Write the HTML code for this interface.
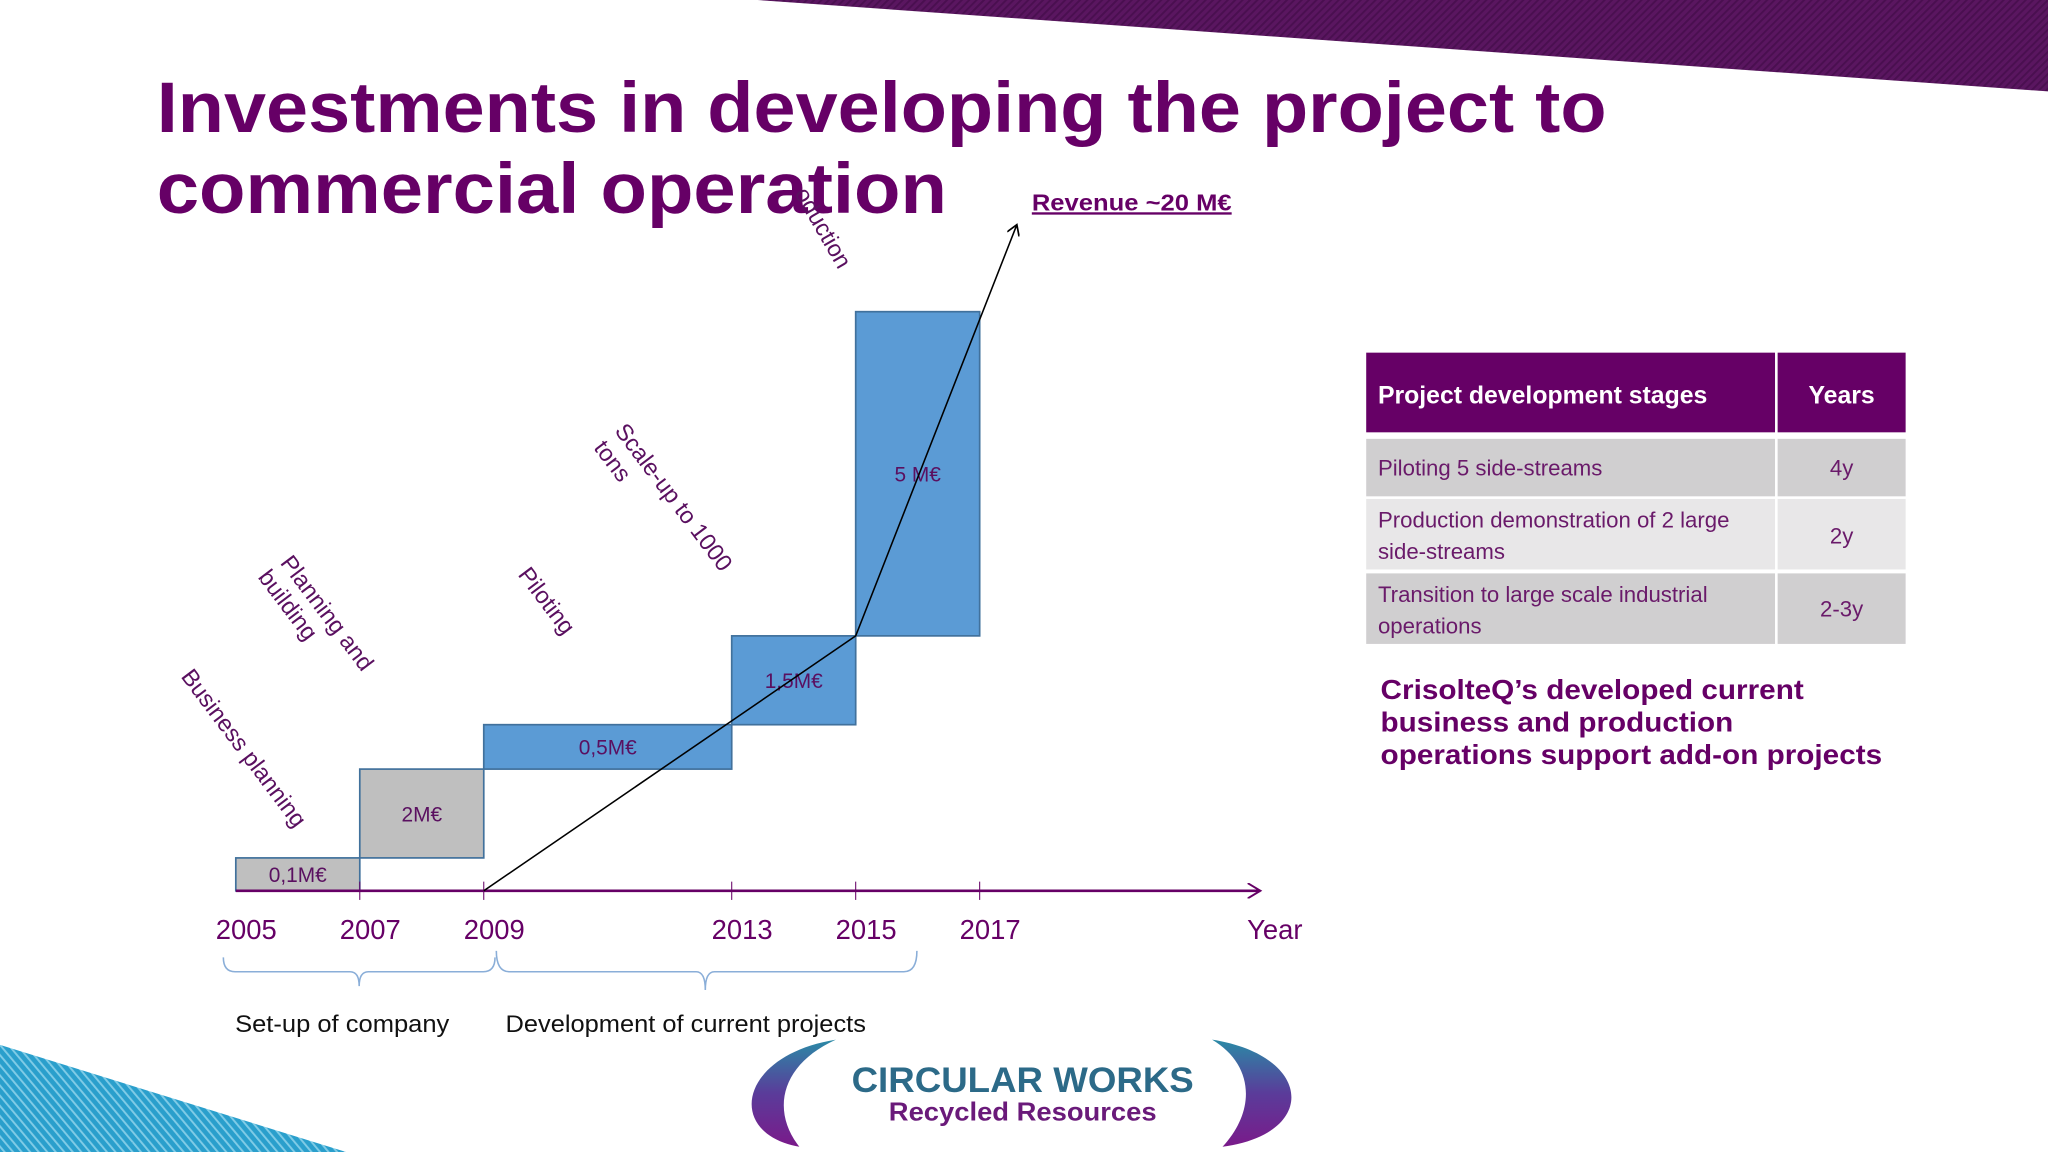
<!DOCTYPE html>
<html><head><meta charset="utf-8"><style>
html,body{margin:0;padding:0;background:#fff;}
svg{display:block;}
text{font-family:"Liberation Sans",sans-serif;}
</style></head><body>
<svg id="s" width="2048" height="1152" viewBox="0 0 1568 882" xmlns="http://www.w3.org/2000/svg">
<defs>
<pattern id="stripe" width="4" height="4" patternUnits="userSpaceOnUse" patternTransform="rotate(45)"><rect width="4" height="4" fill="#5a1660"/><rect width="1.5" height="4" fill="#4a0f50"/></pattern>
<pattern id="cstripe" width="5" height="5" patternUnits="userSpaceOnUse" patternTransform="rotate(-40)"><rect width="5" height="5" fill="#2a9fcc"/><rect width="1.5" height="5" fill="#7fcbe6"/></pattern>
<linearGradient id="cres" x1="0" y1="0" x2="0" y2="1"><stop offset="0" stop-color="#2a8aa6"/><stop offset="0.5" stop-color="#5a3c9a"/><stop offset="1" stop-color="#7a1a8a"/></linearGradient>
<marker id="arr" markerWidth="10" markerHeight="10" refX="8" refY="5" orient="auto" markerUnits="userSpaceOnUse"><path d="M0,0 L8,5 L0,10" fill="none" stroke="#000" stroke-width="1.3"/></marker>
<marker id="arr2" markerWidth="12" markerHeight="12" refX="10" refY="6" orient="auto" markerUnits="userSpaceOnUse"><path d="M0,0 L10,6 L0,12" fill="none" stroke="#660066" stroke-width="1.5"/></marker>
</defs>
<polygon points="580,0 1568,0 1568,70" fill="url(#stripe)"/>
<polygon points="0,800 0,882 265,882" fill="url(#cstripe)"/>

<g id="chart"></g>

<text x="120" y="101" font-size="55" font-weight="bold" fill="#660066" textLength="1110" lengthAdjust="spacingAndGlyphs">Investments in developing the project to</text>
<text x="120" y="163" font-size="55" font-weight="bold" fill="#660066" textLength="605" lengthAdjust="spacingAndGlyphs">commercial operation</text>
<text x="790" y="161" font-size="18" font-weight="bold" fill="#660066" text-decoration="underline" textLength="153" lengthAdjust="spacingAndGlyphs">Revenue ~20 M€</text>

<g font-size="18" fill="#5a1060">
<text transform="translate(138,518) rotate(53)">Business planning</text>
<text transform="translate(214,431) rotate(53)">Planning and</text>
<text transform="translate(197,442) rotate(53)">building</text>
<text transform="translate(396,440) rotate(53)">Piloting</text>
<text transform="translate(470,330) rotate(53)">Scale-up to 1000</text>
<text transform="translate(454,343) rotate(53)">tons</text>
<text transform="translate(608,148) rotate(60)">oduction</text>
</g>

<g fill="none" stroke="#8aaed8" stroke-width="1.2">
<path d="M171,733 Q171,744 180,744 L268,744 Q275,744 275,755 Q275,744 282,744 L370,744 Q379,744 379,733"/>
<path d="M380,728 Q380,744 390,744 L533,744 Q540,744 540,758 Q540,744 547,744 L692,744 Q702,744 702,728"/>
</g>
<text x="180" y="790" font-size="18.5" fill="#111" textLength="164" lengthAdjust="spacingAndGlyphs">Set-up of company</text>
<text x="387" y="790" font-size="18.5" fill="#111" textLength="276" lengthAdjust="spacingAndGlyphs">Development of current projects</text>

<g>
<rect x="1046" y="270" width="313" height="61" fill="#660066"/>
<rect x="1361" y="270" width="98" height="61" fill="#660066"/>
<text x="1055" y="309" font-size="19" font-weight="bold" fill="#fff">Project development stages</text>
<text x="1410" y="309" font-size="19" font-weight="bold" fill="#fff" text-anchor="middle">Years</text>
<rect x="1046" y="336" width="313" height="44" fill="#d0cfd0"/><rect x="1361" y="336" width="98" height="44" fill="#d0cfd0"/>
<rect x="1046" y="382" width="313" height="54" fill="#e8e7e8"/><rect x="1361" y="382" width="98" height="54" fill="#e8e7e8"/>
<rect x="1046" y="439" width="313" height="54" fill="#d0cfd0"/><rect x="1361" y="439" width="98" height="54" fill="#d0cfd0"/>
<g font-size="17" fill="#6a1a6a">
<text x="1055" y="364">Piloting 5 side-streams</text><text x="1410" y="364" text-anchor="middle">4y</text>
<text x="1055" y="404">Production demonstration of 2 large</text><text x="1055" y="428">side-streams</text><text x="1410" y="416" text-anchor="middle">2y</text>
<text x="1055" y="461">Transition to large scale industrial</text><text x="1055" y="485">operations</text><text x="1410" y="472" text-anchor="middle">2-3y</text>
</g>
</g>
<g font-size="21.5" font-weight="bold" fill="#660066">
<text x="1057" y="535" textLength="324" lengthAdjust="spacingAndGlyphs">CrisolteQ’s developed current</text>
<text x="1057" y="560" textLength="270" lengthAdjust="spacingAndGlyphs">business and production</text>
<text x="1057" y="585" textLength="384" lengthAdjust="spacingAndGlyphs">operations support add-on projects</text>
</g>

<g>
<path d="M640,796 C565,808 555,868 612,878 C590,850 598,815 640,796 Z" fill="url(#cres)"/>
<path d="M928,796 C1005,808 1010,868 936,878 C962,850 960,815 928,796 Z" fill="url(#cres)"/>
<text x="783" y="836" font-size="27" font-weight="bold" fill="#2c6a88" text-anchor="middle" textLength="262" lengthAdjust="spacingAndGlyphs">CIRCULAR WORKS</text>
<text x="783" y="858" font-size="20" font-weight="bold" fill="#6a1a7a" text-anchor="middle" textLength="205" lengthAdjust="spacingAndGlyphs">Recycled Resources</text>
</g>
</svg>
<script>
const tickYears = [2005, 2007, 2009, 2013, 2015, 2017];
const blockStart = [2005, 2007, 2009, 2013, 2015];
const blockEnd = [2007, 2009, 2013, 2015, 2017];
const blockLabels = ["0,1M€", "2M€", "0,5M€", "1,5M€", "5 M€"];
const blockHeights = [0.74, 2, 1, 2, 7.3];
const blockPhase = ["setup", "setup", "dev", "dev", "dev"];
const revenueYears = [2009, 2015, 2017.6];
const revenueLevels = [0, 5.74, 15];

const NS = "http://www.w3.org/2000/svg";
const g = document.getElementById("chart");
function x(yr){ return 465.3 + (yr - 2011) * 47.46; }
function y(u){ return 682 - u * 34; }
function mk(tag, attrs){ const e = document.createElementNS(NS, tag); for (const k in attrs) e.setAttribute(k, attrs[k]); g.appendChild(e); return e; }

let base = 0;
blockStart.forEach((s, i) => {
  const top = base + blockHeights[i];
  const r = mk("rect", {x: x(s), y: y(top), width: x(blockEnd[i]) - x(s), height: y(base) - y(top),
    fill: blockPhase[i] === "setup" ? "#bfbfbf" : "#5b9bd5", stroke: "#41719c", "stroke-width": 1.3});
  
  
  const t = mk("text", {x: (x(s) + x(blockEnd[i])) / 2, y: (y(top) + y(base)) / 2 + 6, "font-size": 16, fill: "#5a1060", "text-anchor": "middle"});
  t.textContent = blockLabels[i];
  
  
  base = top;
});

const ax = mk("line", {x1: x(2005), y1: y(0), x2: 965, y2: y(0), stroke: "#660066", "stroke-width": 2, "marker-end": "url(#arr2)"});


tickYears.forEach(yr => {
  if (yr !== 2005) {
    const tk = mk("line", {x1: x(yr), y1: y(0) - 7, x2: x(yr), y2: y(0) + 7, stroke: "#660066", "stroke-width": 0.8});
    
    
  }
  const tl = mk("text", {x: x(yr) + 8, y: 719, "font-size": 21, fill: "#660066", "text-anchor": "middle"});
  tl.textContent = String(yr);
  
  
});
const yl = mk("text", {x: 976, y: 719, "font-size": 21, fill: "#660066", "text-anchor": "middle"});
yl.textContent = "Year";



const pts = revenueYears.map((yr, i) => x(yr) + "," + y(revenueLevels[i])).join(" ");
const rl = mk("polyline", {points: pts, fill: "none", stroke: "#000", "stroke-width": 1.2, "marker-end": "url(#arr)"});


</script>
</body></html>
